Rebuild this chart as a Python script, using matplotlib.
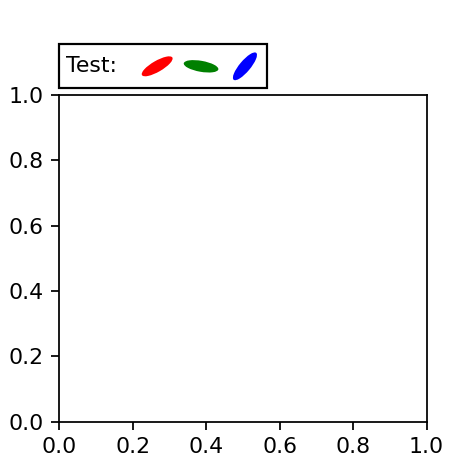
import matplotlib
matplotlib.use("Agg")
import matplotlib.pyplot as plt
from matplotlib.offsetbox import AnchoredOffsetbox, DrawingArea, HPacker, TextArea
from matplotlib.patches import Ellipse

# ellipse data
centers_x = [10, 30, 50]
angles = [30, 170, 230]
colors = ["r", "g", "b"]

fig, ax = plt.subplots(figsize=(3, 3), dpi=158)

box1 = TextArea(" Test: ", textprops=dict(color="k"))
box2 = DrawingArea(60, 20, 0, 0)
for x, a, c in zip(centers_x, angles, colors):
    box2.add_artist(Ellipse((x, 10), width=16, height=5, angle=a, fc=c))

box = HPacker(children=[box1, box2], align="center", pad=0, sep=5)
anchored_box = AnchoredOffsetbox(loc="lower left", child=box, pad=0.,
                                 frameon=True, bbox_to_anchor=(0., 1.02),
                                 bbox_transform=ax.transAxes, borderpad=0.)
ax.add_artist(anchored_box)

fig.subplots_adjust(top=0.8)
fig.savefig("out.png")
